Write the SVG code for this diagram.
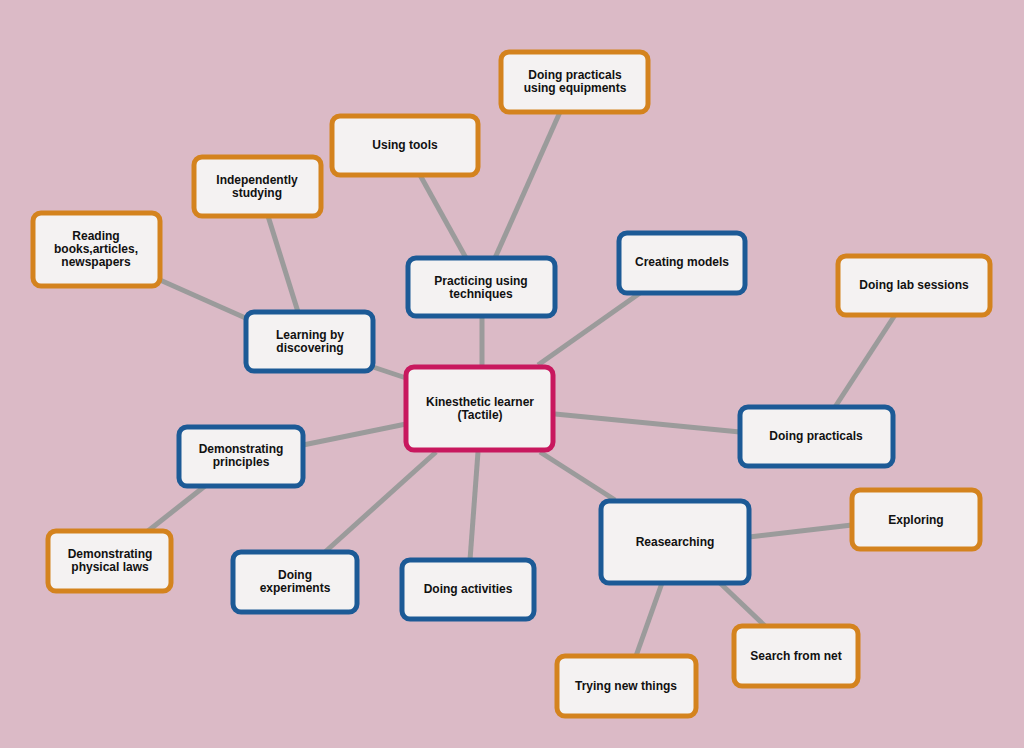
<svg xmlns="http://www.w3.org/2000/svg" width="1024" height="748" viewBox="0 0 1024 748">
<style>
.b{fill:#f4f2f2;stroke-width:5}
.o{stroke:#d4831e}.u{stroke:#1c5a96}.p{stroke:#c8185e}
text{font-family:"Liberation Sans",Arial,sans-serif;font-weight:bold;font-size:12px;fill:#111;text-anchor:middle}
#edges line{stroke:#9b9b9b;stroke-width:5}
</style>
<rect width="1024" height="748" fill="#dbbac6"/>
<g id="edges">
<line x1="482" y1="367" x2="482" y2="316"/><line x1="538" y1="365" x2="640" y2="293"/>
<line x1="555" y1="414" x2="740" y2="432"/><line x1="540" y1="452" x2="615" y2="500"/>
<line x1="478" y1="452" x2="470" y2="560"/><line x1="436" y1="452" x2="325" y2="552"/>
<line x1="406" y1="424" x2="303" y2="445"/><line x1="406" y1="378" x2="373" y2="367"/>
<line x1="466" y1="258" x2="420" y2="175"/><line x1="495" y1="258" x2="560" y2="112"/>
<line x1="298" y1="312" x2="268" y2="216"/><line x1="250" y1="320" x2="160" y2="280"/>
<line x1="205" y1="486" x2="148" y2="531"/><line x1="835" y1="407" x2="895" y2="315"/>
<line x1="749" y1="537" x2="852" y2="525"/><line x1="720" y1="583" x2="765" y2="626"/>
<line x1="662" y1="583" x2="636" y2="656"/>
</g>
<g id="center"><rect class="b p" x="406" y="367" width="147" height="83" rx="8"/><text x="480" y="406">Kinesthetic learner</text><text x="480" y="419">(Tactile)</text></g>
<g id="practicing"><rect class="b u" x="408" y="258" width="147" height="58" rx="8"/><text x="481" y="285">Practicing using</text><text x="481" y="298">techniques</text></g>
<g id="models"><rect class="b u" x="619" y="233" width="126" height="60" rx="8"/><text x="682" y="266">Creating models</text></g>
<g id="lab"><rect class="b o" x="838" y="256" width="152" height="59" rx="8"/><text x="914" y="289">Doing lab sessions</text></g>
<g id="practicals"><rect class="b u" x="740" y="407" width="153" height="59" rx="8"/><text x="816" y="440">Doing practicals</text></g>
<g id="exploring"><rect class="b o" x="852" y="490" width="128" height="59" rx="8"/><text x="916" y="524">Exploring</text></g>
<g id="research"><rect class="b u" x="601" y="501" width="148" height="82" rx="8"/><text x="675" y="546">Reasearching</text></g>
<g id="net"><rect class="b o" x="734" y="626" width="124" height="60" rx="8"/><text x="796" y="660">Search from net</text></g>
<g id="trying"><rect class="b o" x="557" y="656" width="139" height="60" rx="8"/><text x="626" y="690">Trying new things</text></g>
<g id="activities"><rect class="b u" x="402" y="560" width="132" height="59" rx="8"/><text x="468" y="593">Doing activities</text></g>
<g id="experiments"><rect class="b u" x="233" y="552" width="124" height="60" rx="8"/><text x="295" y="579">Doing</text><text x="295" y="592">experiments</text></g>
<g id="laws"><rect class="b o" x="48" y="531" width="123" height="60" rx="8"/><text x="110" y="558">Demonstrating</text><text x="110" y="571">physical laws</text></g>
<g id="principles"><rect class="b u" x="179" y="427" width="124" height="59" rx="8"/><text x="241" y="453">Demonstrating</text><text x="241" y="466">principles</text></g>
<g id="discovering"><rect class="b u" x="246" y="312" width="127" height="59" rx="8"/><text x="310" y="339">Learning by</text><text x="310" y="352">discovering</text></g>
<g id="reading"><rect class="b o" x="33" y="213" width="127" height="73" rx="8"/><text x="96" y="240">Reading</text><text x="96" y="253">books,articles,</text><text x="96" y="266">newspapers</text></g>
<g id="independent"><rect class="b o" x="194" y="157" width="127" height="59" rx="8"/><text x="257" y="184">Independently</text><text x="257" y="197">studying</text></g>
<g id="tools"><rect class="b o" x="332" y="116" width="146" height="59" rx="8"/><text x="405" y="149">Using tools</text></g>
<g id="equip"><rect class="b o" x="501" y="52" width="147" height="60" rx="8"/><text x="575" y="79">Doing practicals</text><text x="575" y="92">using equipments</text></g>
</svg>
